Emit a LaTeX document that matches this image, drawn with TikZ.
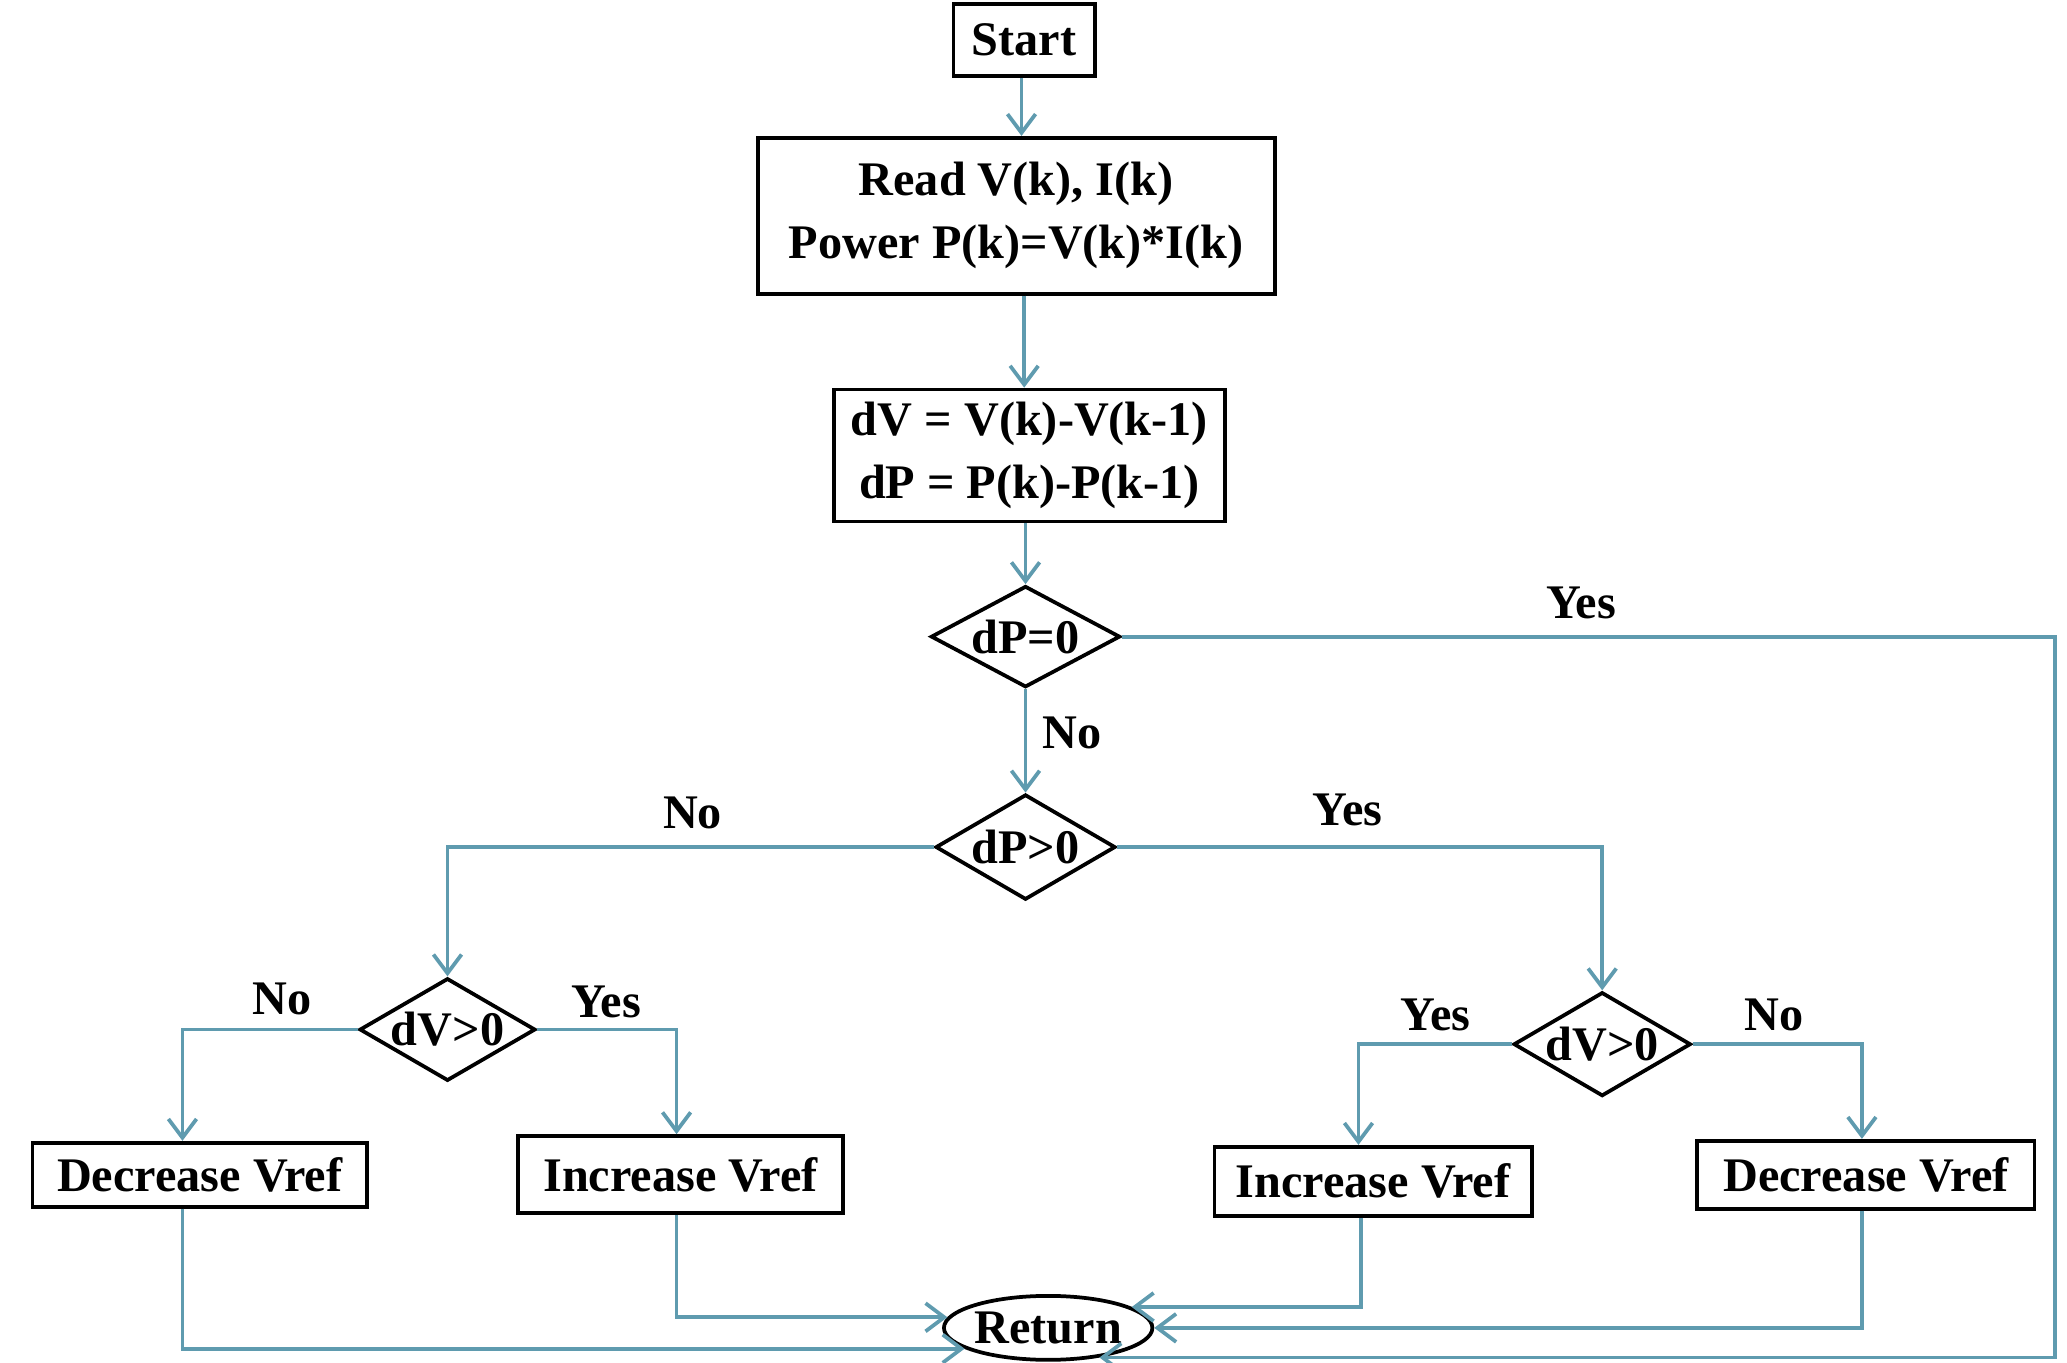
\documentclass[tikz,border=0pt]{standalone}
\usepackage{fontspec}
\setmainfont{Liberation Serif}
\usetikzlibrary{shapes.geometric,arrows.meta}
\definecolor{linecol}{RGB}{95,155,175}
\tikzset{
  box/.style={draw,thick,inner sep=0pt,align=center,font=\fontsize{10.3}{13.5}\selectfont\bfseries},
  dec/.style={draw,thick,diamond,aspect=1.8,inner sep=0pt,font=\fontsize{10.3}{13}\selectfont\bfseries},
  lab/.style={font=\fontsize{10.3}{13}\selectfont\bfseries},
  flow/.style={draw=linecol,thick,-{Straight Barb[length=4pt,width=6pt]}}
}
\begin{document}
\begin{tikzpicture}[x=0.01cm,y=-0.01cm]
		\useasboundingbox (0,0) rectangle (1552,1023);
		
		%% Process boxes
		\node[box,minimum width=1.06cm,minimum height=0.54cm] (start) at (769,30) {Start};
		\node[box,minimum width=3.88cm,minimum height=1.17cm] (read) at (763,162) {Read V(k), I(k)\\Power P(k)=V(k)*I(k)};
		\node[box,minimum width=2.93cm,minimum height=0.99cm] (diff) at (773,342) {dV = V(k)-V(k-1)\\dP = P(k)-P(k-1)};
		
		%% Decisions
		\node[dec,minimum width=1.42cm,minimum height=0.76cm] (dpz) at (770,478) {dP=0};
		\node[dec,minimum width=1.35cm,minimum height=0.79cm] (dpp) at (770,636) {dP>0};
		\node[dec,minimum width=1.32cm,minimum height=0.77cm] (dvl) at (336,773) {dV>0};
		\node[dec,minimum width=1.33cm,minimum height=0.78cm] (dvr) at (1203,784) {dV>0};
		
		%% Actions
		\node[box,minimum width=2.51cm,minimum height=0.48cm] (decl) at (150,882) {Decrease Vref};
		\node[box,minimum width=2.44cm,minimum height=0.58cm] (incl) at (511,882) {Increase Vref};
		\node[box,minimum width=2.38cm,minimum height=0.52cm] (incr) at (1031,887) {Increase Vref};
		\node[box,minimum width=2.53cm,minimum height=0.51cm] (decr) at (1401,882) {Decrease Vref};
		\node[box,ellipse,minimum width=1.40cm,minimum height=0.48cm] (ret) at (787,997) {Return};
		
		%% Main path
		\draw[flow] (start.south -| 767,0) -- (read.north -| 767,0);
		\draw[flow] (read.south -| 769,0) -- (diff.north -| 769,0);
		\draw[flow] (diff.south -| 770,0) -- (dpz.north);
		\draw[flow] (dpz) -- (dpp);
		\draw[flow] (dpz.east) -- (1543,478) |- (ret.-30);
		
		%% Branches
		\draw[flow] (dpp.west) -| (dvl.north);
		\draw[flow] (dpp.east) -| (dvr.north);
		\draw[flow] (dvl.west) -| (decl.north -| 137,0);
		\draw[flow] (dvl.east) -| (incl.north -| 508,0);
		\draw[flow] (dvr.west) -| (incr.north -| 1020,0);
		\draw[flow] (dvr.east) -| (decr.north -| 1398,0);
		
		%% Back to return
		\draw[flow] (decl.south -| 137,0) |- (ret.194);
		\draw[flow] (incl.south -| 508,0) |- (ret.174);
		\draw[flow] (incr.south -| 1022,0) |- (ret.14);
		\draw[flow] (decr.south -| 1398,0) |- (ret.east);
		
		%% Labels
		\node[lab] at (1187,453) {Yes};
		\node[lab] at (805,550) {No};
		\node[lab] at (520,610) {No};
		\node[lab] at (1012,608) {Yes};
		\node[lab] at (212,750) {No};
		\node[lab] at (455,752) {Yes};
		\node[lab] at (1078,762) {Yes};
		\node[lab] at (1332,762) {No};
	\end{tikzpicture}
\end{document}
